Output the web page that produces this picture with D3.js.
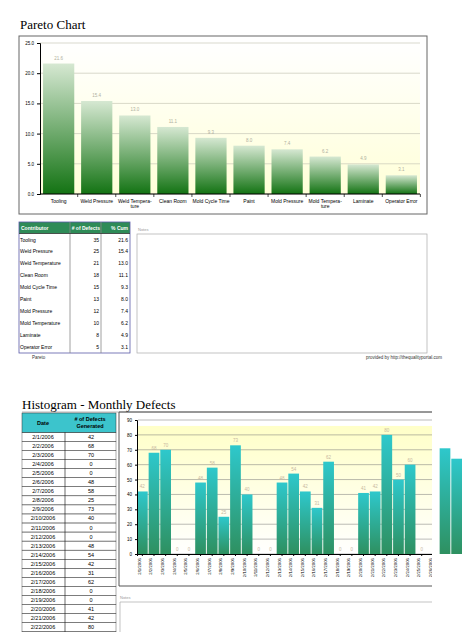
<!DOCTYPE html>
<html><head><meta charset="utf-8">
<script src="https://cdn.jsdelivr.net/npm/d3@7"></script>
<style>body{margin:0;background:#fff}svg text{font-family:Arial,"Liberation Sans",sans-serif}</style>
</head><body>
<svg id="page" width="474" height="632"></svg>
<script>
var contributors = ["Tooling","Weld Pressure","Weld Temperature","Clean Room","Mold Cycle Time","Paint","Mold Pressure","Mold Temperature","Laminate","Operator Error"];
var axisNames = [["Tooling"],["Weld Pressure"],["Weld Tempera-","ture"],["Clean Room"],["Mold Cycle Time"],["Paint"],["Mold Pressure"],["Mold Tempera-","ture"],["Laminate"],["Operator Error"]];
var defects = [35,25,21,18,15,13,12,10,8,5];
var pctCum = [21.6,15.4,13.0,11.1,9.3,8.0,7.4,6.2,4.9,3.1];
var dates = ["2/1/2006","2/2/2006","2/3/2006","2/4/2006","2/5/2006","2/6/2006","2/7/2006","2/8/2006","2/9/2006","2/10/2006","2/11/2006","2/12/2006","2/13/2006","2/14/2006","2/15/2006","2/16/2006","2/17/2006","2/18/2006","2/19/2006","2/20/2006","2/21/2006","2/22/2006","2/23/2006","2/24/2006","2/25/2006","2/26/2006","2/27/2006","2/28/2006"];
var monthly = [42,68,70,0,0,48,58,25,73,40,0,0,48,54,42,31,62,0,0,41,42,80,50,60,0,0,71,64];

var svg = d3.select("#page");
var defs = svg.append("defs");
function grad(id, c1, c2){
  var g = defs.append("linearGradient").attr("id",id).attr("x1",0).attr("y1",0).attr("x2",0).attr("y2",1);
  g.append("stop").attr("offset","0%").attr("stop-color",c1);
  g.append("stop").attr("offset","100%").attr("stop-color",c2);
}
grad("pbar","#d6e8d2","#137313");
grad("pbg","#ffffff","#ffffd8");
grad("hbar","#2ec8cc","#2e9060");
grad("hbg","#ffffc8","#ffffff");
defs.append("clipPath").attr("id","hclip").append("rect").attr("x",119).attr("y",405).attr("width",313).attr("height",190);

// ---- Pareto chart
svg.append("text").attr("x",20).attr("y",29).style("font-family","Liberation Serif,serif").style("font-size","13px").text("Pareto Chart");
svg.append("rect").attr("x",19).attr("y",36).attr("width",408).attr("height",178).attr("fill","#fff").attr("stroke","#666").attr("stroke-width",1);

var x = d3.scaleBand().domain(contributors).range([40,420]).paddingInner(0.18).paddingOuter(0.08);
var y = d3.scaleLinear().domain([0,25]).range([194,43]);
svg.append("rect").attr("x",40).attr("y",43).attr("width",380).attr("height",151).attr("fill","url(#pbg)");
svg.append("g").selectAll("line").data(y.ticks(5)).enter().append("line")
  .attr("x1",40).attr("x2",420).attr("y1",function(d){return y(d);}).attr("y2",function(d){return y(d);})
  .attr("stroke","#c8c8b8").attr("stroke-width",0.7);
svg.selectAll(".pbar").data(defects).enter().append("rect").attr("class","pbar")
  .attr("x",function(d,i){return x(contributors[i]);}).attr("width",x.bandwidth())
  .attr("y",function(d,i){return y(pctCum[i]);}).attr("height",function(d,i){return 194-y(pctCum[i]);})
  .attr("fill","url(#pbar)");
svg.selectAll(".plab").data(pctCum).enter().append("text")
  .attr("x",function(d,i){return x(contributors[i])+x.bandwidth()/2;}).attr("y",function(d){return y(d)-4;})
  .attr("text-anchor","middle").style("font-size","4.5px").attr("fill","#b0b0a0").text(function(d){return d.toFixed(1);});
var ya = svg.append("g").attr("transform","translate(40,0)").call(d3.axisLeft(y).ticks(5).tickSize(3).tickFormat(d3.format(".1f")));
ya.selectAll("text").style("font-size","4.5px");
var xa = svg.append("g").attr("transform","translate(0,194)").call(d3.axisBottom(x).tickSize(0).tickFormat(""));
xa.selectAll(".domain").attr("d","M40,0H420");
svg.append("g").selectAll("line").data(contributors).enter().append("line")
  .attr("x1",function(d){return x(d)+x.bandwidth()+x.step()*0.09;}).attr("x2",function(d){return x(d)+x.bandwidth()+x.step()*0.09;})
  .attr("y1",194).attr("y2",197).attr("stroke","#000").attr("stroke-width",0.7);
contributors.forEach(function(c,i){
  var t = svg.append("text").attr("x",x(c)+x.bandwidth()/2).attr("y",203).attr("text-anchor","middle").style("font-size","5px");
  axisNames[i].forEach(function(s,j){t.append("tspan").attr("x",x(c)+x.bandwidth()/2).attr("dy",j?5:0).text(s);});
});

// ---- Pareto table
var rowH = 11.9, tTop = 222;
svg.append("rect").attr("x",19).attr("y",tTop).attr("width",111).attr("height",11.5).attr("fill","#2e8b57");
[["Contributor",21,"start"],["# of Defects",100,"end"],["% Cum",128,"end"]].forEach(function(h){
  svg.append("text").attr("x",h[1]).attr("y",tTop+8).attr("text-anchor",h[2]).attr("fill","#fff").style("font-size","5px").style("font-weight","bold").text(h[0]);
});
contributors.forEach(function(c,i){
  var yy = tTop+11.5+i*rowH;
  svg.append("text").attr("x",20).attr("y",yy+8).style("font-size","5px").text(c);
  svg.append("text").attr("x",99).attr("y",yy+8).attr("text-anchor","end").style("font-size","5px").text(defects[i]);
  svg.append("text").attr("x",128).attr("y",yy+8).attr("text-anchor","end").style("font-size","5px").text(pctCum[i].toFixed(1));
});
svg.append("rect").attr("x",19).attr("y",tTop).attr("width",111).attr("height",131).attr("fill","none").attr("stroke","#5a5aa8").attr("stroke-width",0.8);
[70,101].forEach(function(v){svg.append("line").attr("x1",v).attr("x2",v).attr("y1",tTop).attr("y2",353).attr("stroke","#888").attr("stroke-width",0.8);});
svg.append("line").attr("x1",19).attr("x2",130).attr("y1",tTop+11.5).attr("y2",tTop+11.5).attr("stroke","#333").attr("stroke-width",0.8);
svg.append("text").attr("x",138).attr("y",231).style("font-size","4px").attr("fill","#999").text("Notes");
svg.append("rect").attr("x",137).attr("y",234).attr("width",290).attr("height",119).attr("fill","none").attr("stroke","#aaa").attr("stroke-width",0.7);
svg.append("text").attr("x",32).attr("y",359).style("font-size","4.5px").attr("fill","#333").text("Pareto");
svg.append("text").attr("x",442).attr("y",359).attr("text-anchor","end").style("font-size","4.5px").attr("fill","#333").text("provided by http://thequalityportal.com");

// ---- Histogram
svg.append("text").attr("x",22).attr("y",409).style("font-family","Liberation Serif,serif").style("font-size","13px").text("Histogram - Monthly Defects");
svg.append("line").attr("x1",22).attr("x2",432).attr("y1",412).attr("y2",412).attr("stroke","#888").attr("stroke-width",0.6);

var hx = d3.scaleBand().domain(dates).range([137,462]).paddingInner(0.08);
var hy = d3.scaleLinear().domain([0,90]).range([554,420]);
var hc = svg.append("g").attr("clip-path","url(#hclip)");
hc.append("rect").attr("x",138).attr("y",hy(86)).attr("width",300).attr("height",554-hy(86)).attr("fill","url(#hbg)");
hc.selectAll(".hg").data(hy.ticks(9)).enter().append("line")
  .attr("x1",138).attr("x2",440).attr("y1",function(d){return hy(d);}).attr("y2",function(d){return hy(d);})
  .attr("stroke","#777").attr("stroke-width",0.5);
svg.selectAll(".hbar").data(monthly).enter().append("rect")
  .attr("x",function(d,i){return hx(dates[i]);}).attr("width",hx.bandwidth())
  .attr("y",function(d){return hy(d);}).attr("height",function(d){return 554-hy(d);})
  .attr("fill","url(#hbar)");
hc.selectAll(".hlab").data(monthly).enter().append("text")
  .attr("x",function(d,i){return hx(dates[i])+hx.bandwidth()/2;}).attr("y",function(d){return hy(d)-3;})
  .attr("text-anchor","middle").style("font-size","4.5px").attr("fill","#c8b8a0").text(function(d){return d;});
var hya = svg.append("g").attr("transform","translate(137,0)").call(d3.axisLeft(hy).ticks(9).tickSize(2));
hya.selectAll("text").style("font-size","4.5px");
var hxa = hc.append("g").attr("transform","translate(0,554)").call(d3.axisBottom(hx).tickSize(2));
hxa.selectAll("text").style("font-size","4.3px").attr("transform","rotate(-90)").attr("text-anchor","end").attr("x",-4).attr("y",-1.5).attr("dy",0);
svg.append("path").attr("d","M432,412H119V586H432").attr("fill","none").attr("stroke","#555").attr("stroke-width",1);

// histogram table
var hTop = 413, hHead = 19.5, hRow = 9.05;
svg.append("rect").attr("x",22).attr("y",hTop).attr("width",94).attr("height",hHead).attr("fill","#3cc4cc");
svg.append("text").attr("x",43).attr("y",hTop+11.5).attr("text-anchor","middle").style("font-size","5.5px").style("font-weight","bold").text("Date");
svg.append("text").attr("x",90).attr("y",hTop+8).attr("text-anchor","middle").style("font-size","5.5px").style("font-weight","bold").text("# of Defects");
svg.append("text").attr("x",90).attr("y",hTop+14.5).attr("text-anchor","middle").style("font-size","5.5px").style("font-weight","bold").text("Generated");
dates.forEach(function(d,i){
  var yy = hTop+hHead+i*hRow;
  if (yy>632) return;
  svg.append("rect").attr("x",22).attr("y",yy).attr("width",43).attr("height",hRow).attr("fill","none").attr("stroke","#333").attr("stroke-width",0.4);
  svg.append("rect").attr("x",65).attr("y",yy).attr("width",51).attr("height",hRow).attr("fill","none").attr("stroke","#333").attr("stroke-width",0.4);
  if (yy+hRow > 633) return;
  svg.append("text").attr("x",43).attr("y",yy+6.5).attr("text-anchor","middle").style("font-size","5.5px").text(d);
  svg.append("text").attr("x",91).attr("y",yy+6.5).attr("text-anchor","middle").style("font-size","5.5px").text(monthly[i]);
});
svg.append("rect").attr("x",22).attr("y",hTop).attr("width",94).attr("height",hHead).attr("fill","none").attr("stroke","#333").attr("stroke-width",0.5);
svg.append("text").attr("x",120).attr("y",599).style("font-size","4px").attr("fill","#999").text("Notes");
svg.append("path").attr("d","M432,602H120V632").attr("fill","none").attr("stroke","#aaa").attr("stroke-width",0.7);
</script>
</body></html>
